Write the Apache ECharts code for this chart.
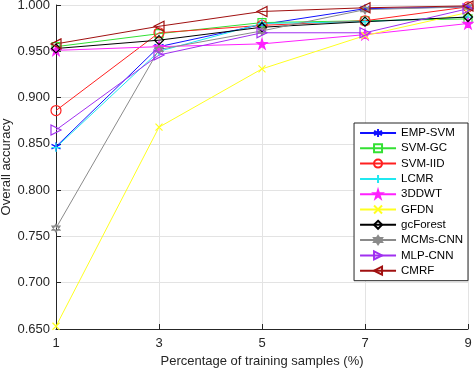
<!DOCTYPE html>
<html><head><meta charset="utf-8">
<script src="https://cdn.jsdelivr.net/npm/echarts@6/dist/echarts.min.js"></script>
<style>html,body{margin:0;padding:0;background:#fff}#c{width:474px;height:369px}</style>
</head><body><div id="c"></div>
<script>
const categories = ['1', '3', '5', '7', '9'];
const yTicks = [0.65, 0.70, 0.75, 0.80, 0.85, 0.90, 0.95, 1.00];
const seriesNames = ['EMP-SVM','SVM-GC','SVM-IID','LCMR','3DDWT','GFDN','gcForest','MCMs-CNN','MLP-CNN','CMRF'];
const empSvm  = [0.847, 0.955, 0.979, 0.996, 0.998];
const svmGc   = [0.955, 0.969, 0.981, 0.983, 0.985];
const svmIid  = [0.886, 0.970, 0.978, 0.983, 0.998];
const lcmr    = [0.846, 0.950, 0.980, 0.982, 0.987];
const ddwt3   = [0.951, 0.955, 0.958, 0.968, 0.980];
const gfdn    = [0.653, 0.868, 0.931, 0.967, 0.992];
const gcForest= [0.953, 0.962, 0.976, 0.982, 0.987];
const mcmsCnn = [0.759, 0.952, 0.972, 0.995, 0.998];
const mlpCnn  = [0.865, 0.946, 0.970, 0.970, 0.996];
const cmrf    = [0.958, 0.977, 0.993, 0.997, 0.999];

const values = [empSvm, svmGc, svmIid, lcmr, ddwt3, gfdn, gcForest, mcmsCnn, mlpCnn, cmrf];
const colors = ['#1010ff','#33e033','#ff2020','#20e8f0','#ff20ff','#ffff20','#000000','#8a8a8a','#a030f0','#a01010'];
const star = 'path://M0,-1L0.2245,-0.309L0.951,-0.309L0.363,0.118L0.588,0.809L0,0.382L-0.588,0.809L-0.363,0.118L-0.951,-0.309L-0.2245,-0.309Z';
const hexa = 'path://M0,-1L0.866,0.5L-0.866,0.5ZM0,1L0.866,-0.5L-0.866,-0.5Z';
const symbols = [
  'path://M0,-1L0,1M-0.87,-0.5L0.87,0.5M-0.87,0.5L0.87,-0.5',
  'rect', 'circle',
  'path://M0,-1L0,1M-1,0L1,0',
  star,
  'path://M-1,-1L1,1M-1,1L1,-1',
  'diamond', hexa,
  'path://M-1,-1L1,0L-1,1Z',
  'path://M1,-1L-1,0L1,1Z'
];
const sizes = [9, 8, 10, 9, 10, 7, 9, 8, 10, 10];
const filled = [true, false, false, false, true, false, false, false, false, false];

const series = seriesNames.map((n, i) => ({
  name: n, type: 'line', data: values[i],
  symbol: symbols[i], symbolSize: sizes[i],
  lineStyle: {color: colors[i], width: 1},
  itemStyle: {color: filled[i] ? colors[i] : 'rgba(255,255,255,0)', borderColor: colors[i], borderWidth: 1.2},
  emphasis: {disabled: true},
  animation: false
}));

const chart = echarts.init(document.getElementById('c'));
chart.setOption({
  animation: false,
  grid: {left: 56, right: 6, top: 5, bottom: 40, containLabel: false, outerBoundsMode: 'none'},
  xAxis: {
    type: 'category', data: categories, boundaryGap: false,
    name: 'Percentage of training samples (%)', nameLocation: 'middle', nameGap: 26,
    nameMoveOverlap: false,
    nameTextStyle: {fontFamily: 'Liberation Sans', fontSize: 13, color: '#262626'},
    axisLine: {lineStyle: {color: '#262626', width: 1}},
    axisTick: {inside: true, length: 5, alignWithLabel: true, lineStyle: {color: '#262626'}},
    axisLabel: {fontFamily: 'Liberation Sans', fontSize: 13, color: '#262626', margin: 8},
    splitLine: {show: true, lineStyle: {color: '#e3e3e3', width: 1}}
  },
  yAxis: {
    type: 'value', min: yTicks[0], max: yTicks[yTicks.length - 1], interval: 0.05,
    name: 'Overall accuracy', nameLocation: 'middle', nameGap: 43,
    nameMoveOverlap: false,
    nameTextStyle: {fontFamily: 'Liberation Sans', fontSize: 13, color: '#262626'},
    axisLine: {show: true, lineStyle: {color: '#262626', width: 1}},
    axisTick: {show: true, inside: true, length: 5, lineStyle: {color: '#262626'}},
    axisLabel: {fontFamily: 'Liberation Sans', fontSize: 13, color: '#262626', margin: 6,
      formatter: v => v.toFixed(3)},
    splitLine: {show: true, lineStyle: {color: '#e3e3e3', width: 1}}
  },
  legend: {
    data: seriesNames, orient: 'vertical', right: 6, top: 123,
    backgroundColor: '#fff', borderColor: '#262626', borderWidth: 1,
    padding: [4, 5, 4, 5], itemWidth: 36, itemHeight: 10, itemGap: 3.3,
    textStyle: {fontFamily: 'Liberation Sans', fontSize: 11.5, lineHeight: 12, color: '#000'},
    selectedMode: false
  },
  series: series
});
</script></body></html>
